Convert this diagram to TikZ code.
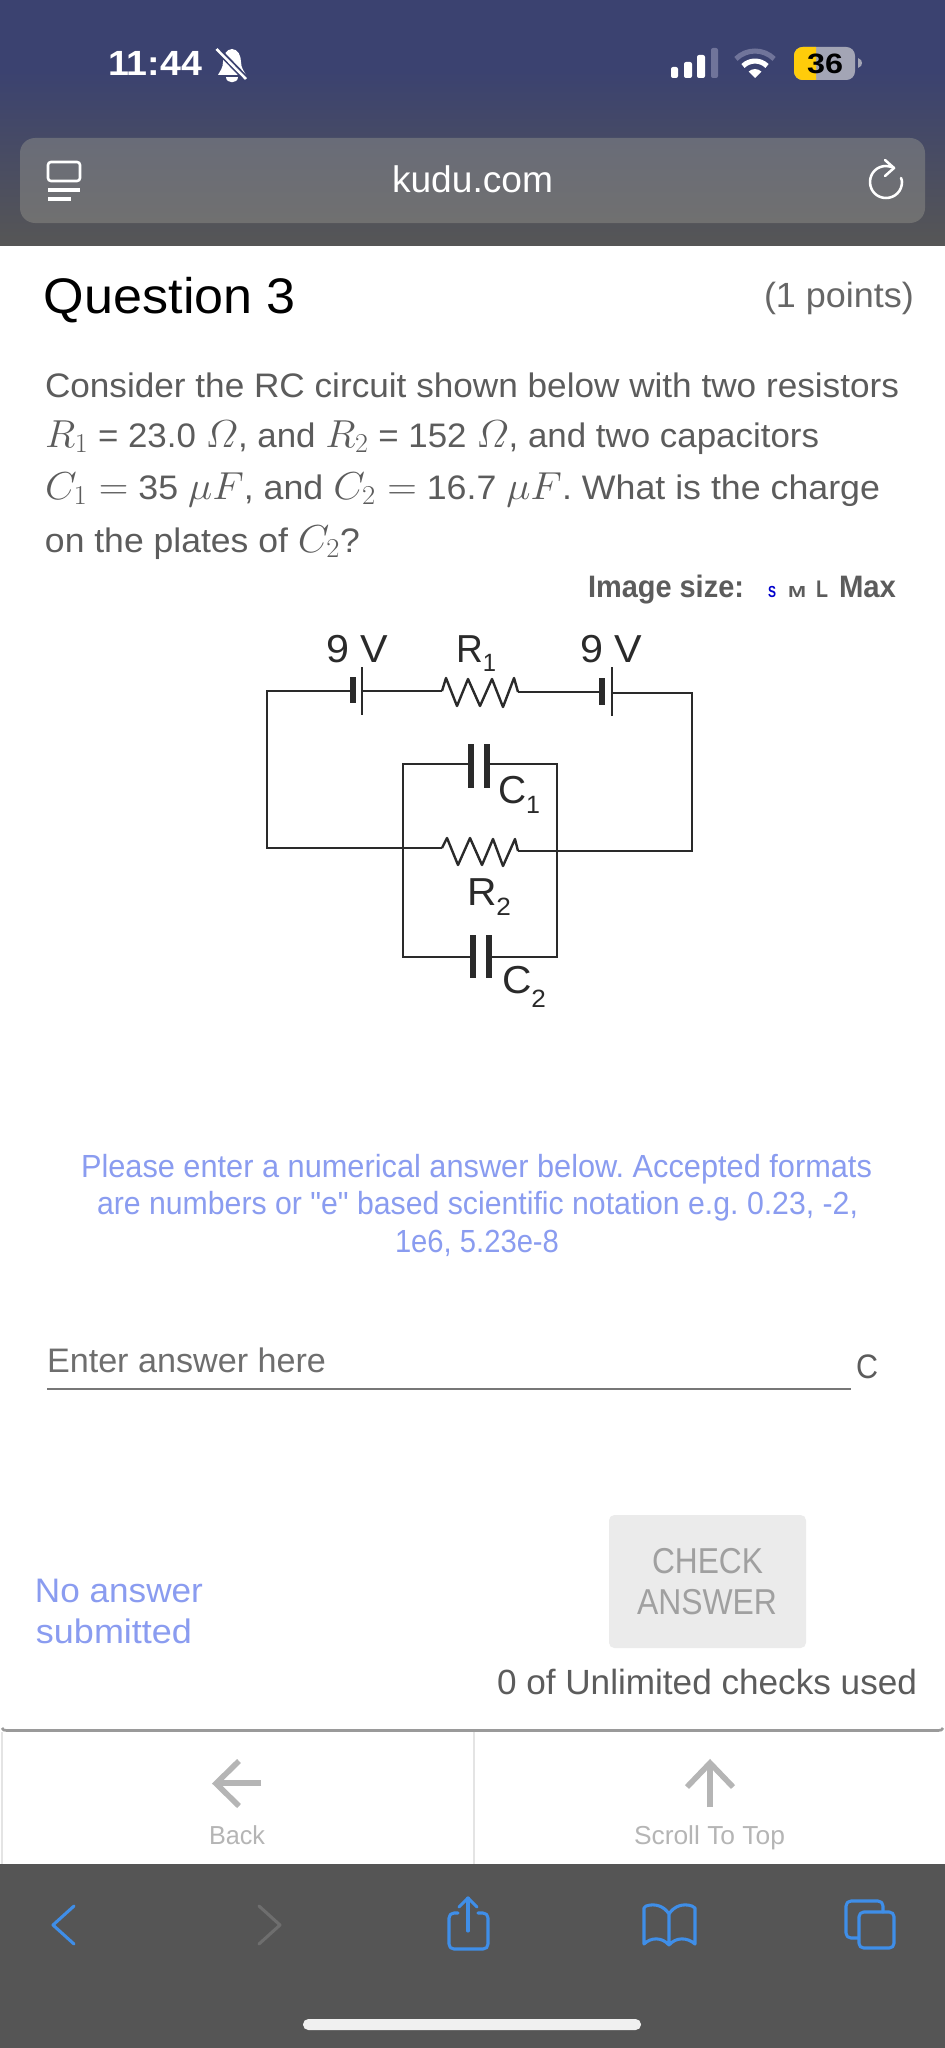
\RequirePackage{fix-cm}
\documentclass[tikz,border=0pt]{standalone}
\usepackage[no-math]{fontspec}
\usepackage{graphicx}
\setmainfont{Liberation Sans}
\newfontfamily\quotefont{Liberation Sans}
\frenchspacing
\newlength\pxu \setlength\pxu{0.75pt}
\definecolor{navy}{HTML}{3B4270}
\definecolor{headgrey}{HTML}{565656}
\definecolor{barbot}{HTML}{707070}
\definecolor{bartop}{HTML}{696C78}
\definecolor{para}{HTML}{5C5C5C}
\definecolor{ptsgrey}{HTML}{666666}
\definecolor{hint}{HTML}{8A9CF0}
\definecolor{ink}{HTML}{2A2A2A}
\definecolor{sblue}{HTML}{0000CC}
\definecolor{entry}{HTML}{6E6E6E}
\definecolor{rulegrey}{HTML}{777777}
\definecolor{btnfill}{HTML}{EBEBEB}
\definecolor{btntext}{HTML}{A0A0A0}
\definecolor{navgrey}{HTML}{B5B5B5}
\definecolor{ios}{HTML}{3F8EE8}
\definecolor{fwd}{HTML}{6E6E6E}
\definecolor{faint}{HTML}{70749A}
\definecolor{battgrey}{HTML}{A3A5B5}
\definecolor{battyel}{HTML}{FFCC0A}
\definecolor{shadowgrey}{HTML}{9A9A9A}
\definecolor{divgrey}{HTML}{E4E4E4}
\definecolor{toolbar}{HTML}{555555}
\definecolor{homebar}{HTML}{F0F0F0}
\newcommand\fs[1]{\fontsize{#1\pxu}{#1\pxu}\selectfont}
\newcommand\tl[7]{\node[txt,text=#4] (#1) at (#2,#3) {\fs{#5}\resizebox{#6\pxu}{\height}{#7}};}
\newcommand\mth[1]{{\fs{39}$#1$}}
\newcommand\momega{\mathnormal{\Omega}}
\tikzset{
  txt/.style={inner sep=0pt,outer sep=0pt,anchor=base west},
  wire/.style={draw=ink,line width=1.8pt,line join=miter},
  platethin/.style={draw=ink,line width=1.5pt},
  platethick/.style={draw=ink,line width=4.5pt},
  icon/.style={draw=ios,line width=2.3pt,line cap=round,line join=round},
  navarrow/.style={draw=navgrey,line width=4.2pt},
}
\begin{document}
\begin{tikzpicture}[x=0.75pt,y=-0.75pt]
\useasboundingbox (0,0) rectangle (945,2048);
\fill[white] (0,0) rectangle (945,2048);
% header
\fill[navy] (0,0) rectangle (945,72);
\shade[top color=navy,bottom color=headgrey,shading angle=0] (0,70) rectangle (945,245);
\shade[top color=bartop,bottom color=barbot,rounded corners=11.25pt] (20,138) rectangle (925,223);
\tl{time}{108}{76}{white}{35}{94}{\bfseries 11:44}
% bell
\fill[white] (232,49) .. controls (238,49) and (241,56) .. (241,62) .. controls (241,68) and (244,71) .. (246,75) -- (218,75) .. controls (220,71) and (223,68) .. (223,62) .. controls (223,56) and (226,49) .. (232,49) -- cycle;
\fill[white] (226,77) -- (238,77) .. controls (238,84) and (226,84) .. (226,77) -- cycle;
\draw[navy,line width=4.5pt] (216,48) -- (247,80);
\draw[white,line width=1.9pt] (216.5,49) -- (246,79);
% signal
\fill[white,rounded corners=1.5pt] (671,67) rectangle (678,78);
\fill[white,rounded corners=1.5pt] (684,62) rectangle (692,78);
\fill[white,rounded corners=1.5pt] (697,55) rectangle (705,78);
\fill[faint,rounded corners=1.5pt] (711,48) rectangle (718,78);
% wifi
\draw[faint,line width=3.8pt] (735.9,58.9) .. controls (746.5,48.4) and (763.5,48.4) .. (774.1,58.9);
\draw[white,line width=3.8pt] (743,66) .. controls (749.6,59.4) and (760.4,59.4) .. (767,66);
\fill[white] (748.6,71.6) .. controls (752.2,68.2) and (757.8,68.2) .. (761.4,71.6) -- (755,78) -- cycle;
% battery
\fill[battgrey,rounded corners=6.5pt] (794,47) rectangle (855,80);
\begin{scope}
\clip (794,47) rectangle (816,80);
\fill[battyel,rounded corners=6.5pt] (794,47) rectangle (855,80);
\end{scope}
\fill[battgrey] (858,58) .. controls (861,59) and (862,61) .. (862,63) .. controls (862,65) and (861,67) .. (858,68) -- cycle;
\tl{batt}{807}{74}{black}{28}{36}{\bfseries 36}
% url bar content
\draw[white,line width=1.9pt,rounded corners=2.2pt] (48,162) rectangle (80,181);
\draw[white,line width=2.3pt] (48,190) -- (80,190);
\draw[white,line width=2.3pt] (48,199) -- (71,199);
\tl{kudu}{392}{193}{white}{37}{161}{kudu.com}
\draw[white,line width=1.9pt,line cap=round,line join=round] (894,168) .. controls (892,167) and (889,166) .. (886,166) .. controls (877,166) and (870,173) .. (870,182) .. controls (870,191) and (877,198) .. (886,198) .. controls (895,198) and (902,191) .. (902,182) .. controls (902,181) and (902,180) .. (901,178);
\draw[white,line width=1.9pt,line cap=round,line join=round] (885,160) -- (894,168) -- (885,176);
% question
\tl{q}{44}{313}{black}{50}{252}{Question 3}
\tl{pts}{764}{307}{ptsgrey}{35}{150}{(1 points)}
\tl{l1}{45}{397}{para}{34}{854}{Consider the RC circuit shown below with two resistors}
\tl{l2}{45}{447}{para}{34}{774}{\mth{R_1} = 23.0 \mth{\momega}, and \mth{R_2} = 152 \mth{\momega}, and two capacitors}
\tl{l3}{45}{499}{para}{34}{835}{\mth{C_1=} 35 \mth{\mu F}, and \mth{C_2=} 16.7 \mth{\mu F}. What is the charge}
\tl{l4}{45}{552}{para}{34}{315}{on the plates of \mth{C_2}?}
\tl{imgsz}{588}{597}{para}{31}{156}{\bfseries Image size:}
\tl{szs}{768}{597}{sblue}{16}{8}{\bfseries S}
\tl{szm}{788}{597}{para}{16}{18}{\bfseries M}
\tl{szl}{816}{597}{para}{24}{12}{\bfseries L}
\tl{szmax}{839}{597}{para}{31}{57}{\bfseries Max}
% circuit
\coordinate (TL) at (267,691);
\coordinate (BL) at (267,848);
\coordinate (TR) at (692,693);
\coordinate (BR) at (692,851);
\coordinate (BaAt) at (353,691);
\coordinate (BaAb) at (362,691);
\coordinate (RaL) at (442,691);
\coordinate (RaR) at (518,692);
\coordinate (BbAt) at (602,692);
\coordinate (BbAb) at (612,693);
\coordinate (RbL) at (442,848);
\coordinate (RbR) at (518,851);
\coordinate (XTL) at (403,764);
\coordinate (XTR) at (557,764);
\coordinate (XBL) at (403,957);
\coordinate (XBR) at (557,957);
\coordinate (CaL) at (471,764);
\coordinate (CaR) at (487,764);
\coordinate (CbL) at (473,957);
\coordinate (CbR) at (489,957);
\draw[wire] (BaAt) -- (TL) -- (BL) -- (RbL);
\draw[wire] (BaAb) -- (RaL);
\draw[wire] (RaR) -- (BbAt);
\draw[wire] (BbAb) -- (TR) -- (BR) -- (RbR);
\draw[wire] (CaL) -- (XTL) -- (XBL) -- (CbL);
\draw[wire] (CaR) -- (XTR) -- (XBR) -- (CbR);
\draw[platethick] (353,677) -- (353,703);
\draw[platethin] (362,667) -- (362,715);
\draw[platethick] (602,678) -- (602,705);
\draw[platethin] (612,667) -- (612,716);
\draw[platethick] (471,744) -- (471,788);
\draw[platethick] (487,744) -- (487,788);
\draw[platethick] (473,935) -- (473,978);
\draw[platethick] (489,935) -- (489,978);
\draw[wire,line join=round] (RaL) -- (446,678) -- (457,706) -- (468,679) -- (480,706) -- (492,679) -- (503,707) -- (514,678) -- (RaR);
\draw[wire,line join=round] (RbL) -- (447,838) -- (458,865) -- (470,838) -- (482,865) -- (493,839) -- (503,866) -- (515,839) -- (RbR);
\tl{va}{326}{662}{ink}{39}{62}{9 V}
\tl{vb}{580}{662}{ink}{39}{62}{9 V}
\tl{ra}{456}{662}{ink}{39}{40}{R\raisebox{-9\pxu}{\fs{25}1}}
\tl{ca}{498}{803}{ink}{39}{42}{C\raisebox{-10\pxu}{\fs{25}1}}
\tl{rb}{467}{905}{ink}{39}{44}{R\raisebox{-10\pxu}{\fs{25}2}}
\tl{cb}{502}{993}{ink}{39}{44}{C\raisebox{-14\pxu}{\fs{25}2}}
% hint
\tl{pa}{81}{1177}{hint}{32}{791}{Please enter a numerical answer below. Accepted formats}
\tl{pb}{97}{1214}{hint}{32}{761}{are numbers or {\quotefont "}e{\quotefont "} based scientific notation e.g. 0.23, -2,}
\tl{pc}{395}{1252}{hint}{32}{164}{1e6, 5.23e-8}
% entry
\tl{ent}{47}{1372}{entry}{34}{279}{Enter answer here}
\draw[rulegrey,line width=1.3pt] (47,1389) -- (851,1389);
\tl{unit}{856}{1378}{para}{34}{22}{C}
% status
\tl{noa}{35}{1602}{hint}{34}{168}{No answer}
\tl{nob}{36}{1643}{hint}{34}{156}{submitted}
\fill[btnfill,rounded corners=4pt] (609,1515) rectangle (806,1648);
\tl{cka}{652}{1573}{btntext}{36}{111}{CHECK}
\tl{ckb}{637}{1614}{btntext}{36}{140}{ANSWER}
\tl{used}{497}{1694}{para}{35}{420}{0 of Unlimited checks used}
% card bottom
\draw[shadowgrey,line width=2pt] (2,1728) .. controls (3,1730) and (4,1730.5) .. (7,1730.5) -- (938,1730.5) .. controls (941,1730.5) and (942,1730) .. (943,1728);
\draw[divgrey,line width=0.8pt] (2,1732) -- (2,1864);
\draw[divgrey,line width=0.8pt] (474,1732) -- (474,1864);
\draw[navarrow] (261,1783) -- (218,1783);
\draw[navarrow] (239,1761) -- (216,1783.5) -- (239,1806);
\draw[navarrow] (710,1807) -- (710,1766);
\draw[navarrow] (687,1787) -- (710,1763) -- (733,1787);
\tl{back}{209}{1844}{navgrey}{26}{56}{Back}
\tl{scroll}{634}{1844}{navgrey}{26}{151}{Scroll To Top}
% toolbar
\fill[toolbar] (0,1864) rectangle (945,2048);
\draw[icon] (74,1906) -- (53,1925) -- (74,1944);
\draw[fwd,line width=2.3pt,line cap=round,line join=round] (259,1906) -- (280,1925) -- (259,1944);
\draw[icon] (458,1913) -- (454,1913) .. controls (451,1913) and (449,1915) .. (449,1918) -- (449,1944) .. controls (449,1947) and (451,1949) .. (454,1949) -- (483,1949) .. controls (486,1949) and (488,1947) .. (488,1944) -- (488,1918) .. controls (488,1915) and (486,1913) .. (483,1913) -- (478,1913);
\draw[icon] (468,1931) -- (468,1898);
\draw[icon] (459,1907) -- (468,1898) -- (477,1907);
\draw[icon] (669,1914) .. controls (664,1906) and (655,1903) .. (646,1906) -- (644,1908) -- (644,1944) .. controls (651,1937) and (662,1937) .. (669,1945) .. controls (676,1937) and (687,1937) .. (695,1944) -- (695,1908) -- (692,1906) .. controls (683,1903) and (674,1906) .. (669,1914) -- (669,1945);
\draw[icon] (858,1938) -- (851,1938) .. controls (848,1938) and (846,1936) .. (846,1933) -- (846,1906) .. controls (846,1903) and (848,1901) .. (851,1901) -- (878,1901) .. controls (881,1901) and (883,1903) .. (883,1906) -- (883,1912);
\draw[icon,rounded corners=3.5pt] (859,1912) rectangle (894,1948);
\fill[homebar,rounded corners=4pt] (303,2019) rectangle (641,2030);
\end{tikzpicture}
\end{document}
